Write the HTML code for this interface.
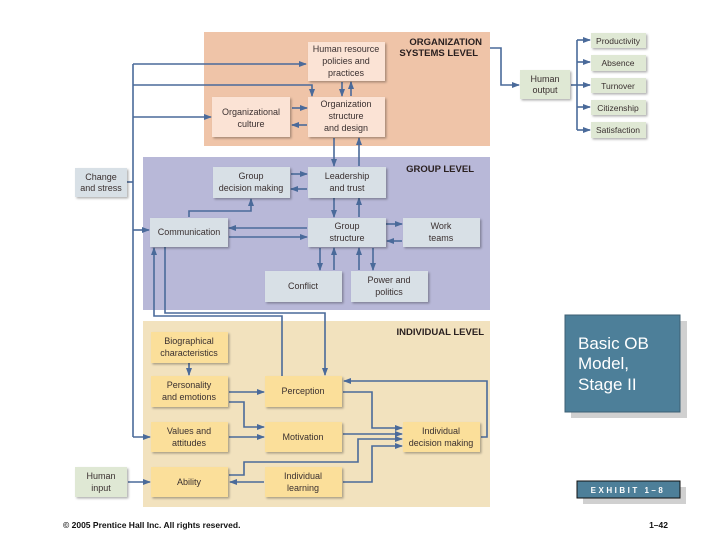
<!DOCTYPE html>
<html><head><meta charset="utf-8"><style>
body{margin:0;background:#fff;width:728px;height:546px;overflow:hidden}
svg{display:block}
text{font-family:"Liberation Sans",sans-serif}
.b{font-size:9px;fill:#3a3030;text-anchor:middle}
.h{font-size:9.5px;font-weight:bold;fill:#2a2020}
</style></head><body>
<svg width="728" height="546" viewBox="0 0 728 546" xmlns="http://www.w3.org/2000/svg">
<defs>
<marker id="a" markerWidth="8" markerHeight="6" refX="7" refY="3" orient="auto" markerUnits="userSpaceOnUse"><path d="M0,0 L8,3 L0,6 Z" fill="#4a6a9a"/></marker>
<filter id="s" x="-10%" y="-10%" width="130%" height="140%"><feDropShadow dx="1.5" dy="1.5" stdDeviation="1" flood-color="#000" flood-opacity="0.3"/></filter>
</defs>
<!-- regions -->
<rect x="204" y="32" width="286" height="114" fill="#efc4a8"/>
<rect x="143" y="157" width="347" height="153" fill="#b8b8d8"/>
<rect x="143" y="321" width="347" height="186" fill="#f2e2be"/>
<text class="h" x="482" y="45" text-anchor="end">ORGANIZATION</text>
<text class="h" x="478" y="56" text-anchor="end">SYSTEMS LEVEL</text>
<text class="h" x="474" y="172" text-anchor="end">GROUP LEVEL</text>
<text class="h" x="484" y="335" text-anchor="end">INDIVIDUAL LEVEL</text>

<g stroke="#4a6a9a" stroke-width="1.6" fill="none">
<!-- left trunk -->
<path d="M133 64 V437"/>
<path d="M127 182 H133"/>
<path d="M133 64 H306" marker-end="url(#a)"/>
<path d="M133 85 H312 V96" marker-end="url(#a)"/>
<path d="M133 117 H211" marker-end="url(#a)"/>
<path d="M133 230 H149" marker-end="url(#a)"/>
<path d="M133 437 H150" marker-end="url(#a)"/>
<!-- org -->
<path d="M342 82 V96" marker-end="url(#a)"/>
<path d="M351 96 V82" marker-end="url(#a)"/>
<path d="M292 108 H307" marker-end="url(#a)"/>
<path d="M307 125 H292" marker-end="url(#a)"/>
<path d="M334 138 V166" marker-end="url(#a)"/>
<path d="M359 166 V138" marker-end="url(#a)"/>
<!-- group -->
<path d="M291 174 H307" marker-end="url(#a)"/>
<path d="M307 189 H291" marker-end="url(#a)"/>
<path d="M334 198 V217" marker-end="url(#a)"/>
<path d="M359 217 V198" marker-end="url(#a)"/>
<path d="M189 217 V211 H251 V199" marker-end="url(#a)"/>
<path d="M307 228 H229" marker-end="url(#a)"/>
<path d="M229 237 H307" marker-end="url(#a)"/>
<path d="M386 224 H402" marker-end="url(#a)"/>
<path d="M402 241 H387" marker-end="url(#a)"/>
<path d="M320 248 V270" marker-end="url(#a)"/>
<path d="M334 270 V248" marker-end="url(#a)"/>
<path d="M359 270 V248" marker-end="url(#a)"/>
<path d="M373 248 V270" marker-end="url(#a)"/>
<!-- comm to perception -->
<path d="M282 376 V316 H154 V248" marker-end="url(#a)"/>
<path d="M165 247 V313 H325 V375" marker-end="url(#a)"/>
<!-- individual -->
<path d="M189 363 V375" marker-end="url(#a)"/>
<path d="M229 392 H264" marker-end="url(#a)"/>
<path d="M229 402 H244 V427 H264" marker-end="url(#a)"/>
<path d="M229 437 H264" marker-end="url(#a)"/>
<path d="M343 392 H372 V428 H402" marker-end="url(#a)"/>
<path d="M343 434 H402" marker-end="url(#a)"/>
<path d="M229 475 H244 V462 H358 V439 H402" marker-end="url(#a)"/>
<path d="M343 482 H372 V446 H402" marker-end="url(#a)"/>
<path d="M481 437 H487 V381 H344" marker-end="url(#a)"/>
<path d="M264 482 H230" marker-end="url(#a)"/>
<path d="M128 482 H150" marker-end="url(#a)"/>
<!-- output -->
<path d="M490 48 H501 V85 H519" marker-end="url(#a)"/>
<path d="M571 85 H577"/>
<path d="M577 40 V130"/>
<path d="M577 40 H590" marker-end="url(#a)"/>
<path d="M577 62 H590" marker-end="url(#a)"/>
<path d="M577 85 H590" marker-end="url(#a)"/>
<path d="M577 107 H590" marker-end="url(#a)"/>
<path d="M577 130 H590" marker-end="url(#a)"/>
</g>

<g filter="url(#s)">
<rect x="308" y="42" width="77" height="39" fill="#fbe3d5"/>
<rect x="212" y="97" width="78" height="40" fill="#fbe3d5"/>
<rect x="308" y="97" width="77" height="40" fill="#fbe3d5"/>
<rect x="75" y="168" width="52" height="29" fill="#d8e0e6"/>
<rect x="213" y="167" width="77" height="31" fill="#d8e0e6"/>
<rect x="308" y="167" width="78" height="31" fill="#d8e0e6"/>
<rect x="150" y="218" width="78" height="29" fill="#d8e0e6"/>
<rect x="308" y="218" width="78" height="29" fill="#d8e0e6"/>
<rect x="403" y="218" width="77" height="29" fill="#d8e0e6"/>
<rect x="265" y="271" width="77" height="31" fill="#d8e0e6"/>
<rect x="351" y="271" width="77" height="31" fill="#d8e0e6"/>
<rect x="151" y="332" width="77" height="31" fill="#fbdf9a"/>
<rect x="151" y="376" width="77" height="31" fill="#fbdf9a"/>
<rect x="265" y="376" width="77" height="31" fill="#fbdf9a"/>
<rect x="151" y="422" width="77" height="30" fill="#fbdf9a"/>
<rect x="265" y="422" width="77" height="30" fill="#fbdf9a"/>
<rect x="403" y="422" width="77" height="30" fill="#fbdf9a"/>
<rect x="75" y="467" width="52" height="30" fill="#dfe8d4"/>
<rect x="151" y="467" width="77" height="30" fill="#fbdf9a"/>
<rect x="265" y="467" width="77" height="30" fill="#fbdf9a"/>
<rect x="520" y="70" width="50" height="29" fill="#dfe8d4"/>
<rect x="591" y="33" width="55" height="15" fill="#dfe8d4"/>
<rect x="591" y="55" width="55" height="16" fill="#dfe8d4"/>
<rect x="591" y="78" width="55" height="15" fill="#dfe8d4"/>
<rect x="591" y="100" width="55" height="15" fill="#dfe8d4"/>
<rect x="591" y="122" width="55" height="16" fill="#dfe8d4"/>
</g>

<text class="b" x="346" y="52">Human resource</text>
<text class="b" x="346" y="64">policies and</text>
<text class="b" x="346" y="76">practices</text>
<text class="b" x="251" y="115">Organizational</text>
<text class="b" x="251" y="127">culture</text>
<text class="b" x="346" y="107">Organization</text>
<text class="b" x="346" y="119">structure</text>
<text class="b" x="346" y="131">and design</text>
<text class="b" x="101" y="180">Change</text>
<text class="b" x="101" y="191">and stress</text>
<text class="b" x="251" y="179">Group</text>
<text class="b" x="251" y="191">decision making</text>
<text class="b" x="347" y="179">Leadership</text>
<text class="b" x="347" y="191">and trust</text>
<text class="b" x="189" y="235">Communication</text>
<text class="b" x="347" y="229">Group</text>
<text class="b" x="347" y="241">structure</text>
<text class="b" x="441" y="229">Work</text>
<text class="b" x="441" y="241">teams</text>
<text class="b" x="303" y="289">Conflict</text>
<text class="b" x="389" y="283">Power and</text>
<text class="b" x="389" y="295">politics</text>
<text class="b" x="189" y="344">Biographical</text>
<text class="b" x="189" y="356">characteristics</text>
<text class="b" x="189" y="388">Personality</text>
<text class="b" x="189" y="400">and emotions</text>
<text class="b" x="303" y="394">Perception</text>
<text class="b" x="189" y="434">Values and</text>
<text class="b" x="189" y="446">attitudes</text>
<text class="b" x="303" y="440">Motivation</text>
<text class="b" x="441" y="434">Individual</text>
<text class="b" x="441" y="446">decision making</text>
<text class="b" x="101" y="479">Human</text>
<text class="b" x="101" y="491">input</text>
<text class="b" x="189" y="485">Ability</text>
<text class="b" x="303" y="479">Individual</text>
<text class="b" x="303" y="491">learning</text>
<text class="b" x="545" y="82">Human</text>
<text class="b" x="545" y="93">output</text>
<text class="b" x="618" y="44" style="font-size:8.5px">Productivity</text>
<text class="b" x="618" y="66" style="font-size:8.5px">Absence</text>
<text class="b" x="618" y="89" style="font-size:8.5px">Turnover</text>
<text class="b" x="618" y="111" style="font-size:8.5px">Citizenship</text>
<text class="b" x="618" y="133" style="font-size:8.5px">Satisfaction</text>

<!-- title box -->
<rect x="571" y="321" width="116" height="97" fill="#d0d0d0"/>
<rect x="565" y="315" width="115" height="97" fill="#4d7f99" stroke="#3d5f73" stroke-width="1"/>
<text x="578" y="349" style="font-size:17px;fill:#fff">Basic OB</text>
<text x="578" y="369" style="font-size:17px;fill:#fff">Model,</text>
<text x="578" y="390" style="font-size:17px;fill:#fff">Stage II</text>
<rect x="583" y="487" width="103" height="17" fill="#d0d0d0"/>
<rect x="577" y="481" width="103" height="17" fill="#4d7f99" stroke="#111" stroke-width="1"/>
<text x="628" y="493" text-anchor="middle" style="font-size:8px;font-weight:bold;fill:#fff;letter-spacing:2.5px">EXHIBIT 1–8</text>
<text x="63" y="528" style="font-size:8.5px;font-weight:bold;fill:#111">© 2005 Prentice Hall Inc. All rights reserved.</text>
<text x="668" y="528" text-anchor="end" style="font-size:8.5px;font-weight:bold;fill:#111">1–42</text>
</svg>
</body></html>
